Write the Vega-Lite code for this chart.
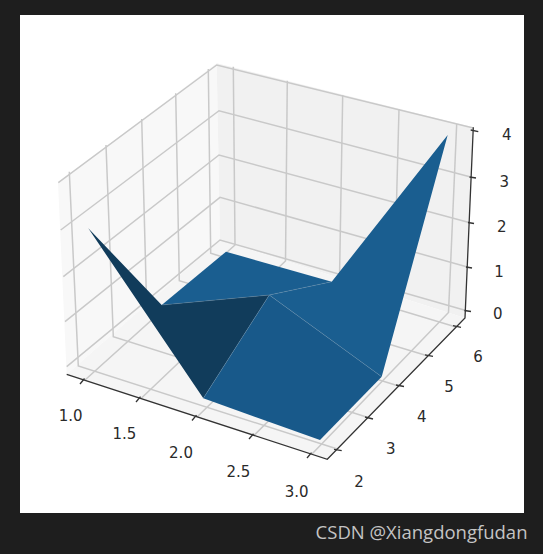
{
"$schema":"https://vega.github.io/schema/vega-lite/v6.json",
"width":543,"height":554,"padding":0,"autosize":{"type":"none"},
"background":"#1e1e1e",
"config":{"view":{"stroke":null}},
"datasets":{
"panel":[{"x0":20,"x1":524,"y0":15,"y1":513}],
"faces":[
{"face":"left","step":0,"px":58,"py":182.7},{"face":"left","step":1,"px":216.7,"py":63.3},{"face":"left","step":2,"px":220,"py":240},{"face":"left","step":3,"px":66.7,"py":374.3},
{"face":"back","step":0,"px":216.7,"py":63.3},{"face":"back","step":1,"px":473.3,"py":127.3},{"face":"back","step":2,"px":465,"py":318},{"face":"back","step":3,"px":220,"py":240},
{"face":"floor","step":0,"px":66.7,"py":374.3},{"face":"floor","step":1,"px":220,"py":240},{"face":"floor","step":2,"px":465,"py":318},{"face":"floor","step":3,"px":327.3,"py":459.3}
],
"surface":[
{"face":"rear","step":0,"px":161.7,"py":305},{"face":"rear","step":1,"px":226,"py":251.7},{"face":"rear","step":2,"px":331.7,"py":281.7},{"face":"rear","step":3,"px":269.3,"py":295},
{"face":"shade","step":0,"px":88.3,"py":228.3},{"face":"shade","step":1,"px":161.7,"py":305},{"face":"shade","step":2,"px":269.3,"py":295},{"face":"shade","step":3,"px":203.3,"py":398.3},
{"face":"front","step":0,"px":203.3,"py":398.3},{"face":"front","step":1,"px":269.3,"py":295},{"face":"front","step":2,"px":381.7,"py":376.7},{"face":"front","step":3,"px":320,"py":440},
{"face":"right","step":0,"px":269.3,"py":295},{"face":"right","step":1,"px":331.7,"py":281.7},{"face":"right","step":2,"px":447.7,"py":135},{"face":"right","step":3,"px":381.7,"py":376.7}
],
"seams":[
{"id":"s1","step":0,"px":161.7,"py":305},{"id":"s1","step":1,"px":269.3,"py":295},
{"id":"s2","step":0,"px":269.3,"py":295},{"id":"s2","step":1,"px":203.3,"py":398.3},
{"id":"s3","step":0,"px":269.3,"py":295},{"id":"s3","step":1,"px":381.7,"py":376.7},
{"id":"s4","step":0,"px":269.3,"py":295},{"id":"s4","step":1,"px":331.7,"py":281.7}
],
"grid":[
{"id":"xb1","step":0,"px":233.3,"py":66.7},{"id":"xb1","step":1,"px":235,"py":245},{"id":"xb1","step":2,"px":85,"py":380},
{"id":"xb2","step":0,"px":287.3,"py":80.7},{"id":"xb2","step":1,"px":285.5,"py":261},{"id":"xb2","step":2,"px":141,"py":398.5},
{"id":"xb3","step":0,"px":342.7,"py":95},{"id":"xb3","step":1,"px":339.5,"py":278.5},{"id":"xb3","step":2,"px":197,"py":417},
{"id":"xb4","step":0,"px":399,"py":109},{"id":"xb4","step":1,"px":394,"py":296},{"id":"xb4","step":2,"px":254,"py":435.4},
{"id":"xb5","step":0,"px":456.7,"py":124},{"id":"xb5","step":1,"px":448.5,"py":312.5},{"id":"xb5","step":2,"px":312,"py":454},
{"id":"yl2","step":0,"px":69.3,"py":171.7},{"id":"yl2","step":1,"px":78.3,"py":366},{"id":"yl2","step":2,"px":337.3,"py":449},
{"id":"yl3","step":0,"px":106,"py":145},{"id":"yl3","step":1,"px":113.3,"py":336.7},{"id":"yl3","step":2,"px":368,"py":417.5},
{"id":"yl4","step":0,"px":141.7,"py":119},{"id":"yl4","step":1,"px":146.7,"py":308},{"id":"yl4","step":2,"px":398.7,"py":386},
{"id":"yl5","step":0,"px":175.7,"py":93.3},{"id":"yl5","step":1,"px":179.3,"py":280.7},{"id":"yl5","step":2,"px":428,"py":356},
{"id":"yl6","step":0,"px":208.3,"py":69},{"id":"yl6","step":1,"px":210.7,"py":253.3},{"id":"yl6","step":2,"px":456,"py":327},
{"id":"z4","step":0,"px":58.3,"py":182.7},{"id":"z4","step":1,"px":216.7,"py":65},{"id":"z4","step":2,"px":473.3,"py":128},
{"id":"z3","step":0,"px":60.7,"py":230},{"id":"z3","step":1,"px":219,"py":110.7},{"id":"z3","step":2,"px":471.7,"py":177.3},
{"id":"z2","step":0,"px":63.3,"py":276.7},{"id":"z2","step":1,"px":219,"py":155},{"id":"z2","step":2,"px":470,"py":222.7},
{"id":"z1","step":0,"px":65,"py":321.7},{"id":"z1","step":1,"px":220,"py":197.3},{"id":"z1","step":2,"px":468.3,"py":267.3},
{"id":"z0","step":0,"px":66.7,"py":366.7},{"id":"z0","step":1,"px":220,"py":240},{"id":"z0","step":2,"px":466.7,"py":310.7}
],
"axes":[
{"id":"frame","step":0,"px":66.7,"py":374.3},{"id":"frame","step":1,"px":327.3,"py":459.3},{"id":"frame","step":2,"px":465,"py":318},{"id":"frame","step":3,"px":473.3,"py":127.3},
{"id":"tx1","step":0,"px":84.5,"py":378.5},{"id":"tx1","step":1,"px":80,"py":384},
{"id":"tx2","step":0,"px":140.5,"py":396.7},{"id":"tx2","step":1,"px":136,"py":402},
{"id":"tx3","step":0,"px":196.5,"py":415.2},{"id":"tx3","step":1,"px":192,"py":420.5},
{"id":"tx4","step":0,"px":253.5,"py":433.8},{"id":"tx4","step":1,"px":249,"py":439},
{"id":"tx5","step":0,"px":311.5,"py":452.6},{"id":"tx5","step":1,"px":307,"py":458},
{"id":"ty2","step":0,"px":334,"py":449.3},{"id":"ty2","step":1,"px":341.7,"py":450.7},
{"id":"ty3","step":0,"px":365,"py":417},{"id":"ty3","step":1,"px":373,"py":419},
{"id":"ty4","step":0,"px":396,"py":385},{"id":"ty4","step":1,"px":404,"py":386.5},
{"id":"ty5","step":0,"px":425,"py":354.8},{"id":"ty5","step":1,"px":433,"py":356.3},
{"id":"ty6","step":0,"px":453,"py":325.7},{"id":"ty6","step":1,"px":461,"py":327.3},
{"id":"tz4","step":0,"px":470.7,"py":130},{"id":"tz4","step":1,"px":478.3,"py":131.7},
{"id":"tz3","step":0,"px":469.5,"py":177},{"id":"tz3","step":1,"px":476,"py":178},
{"id":"tz2","step":0,"px":468,"py":222.5},{"id":"tz2","step":1,"px":474,"py":223.5},
{"id":"tz1","step":0,"px":466,"py":267},{"id":"tz1","step":1,"px":472,"py":268},
{"id":"tz0","step":0,"px":464.5,"py":310.5},{"id":"tz0","step":1,"px":471,"py":311.5}
],
"labels":[
{"label":"1.0","px":70.7,"py":415.7},{"label":"1.5","px":124.3,"py":434.3},{"label":"2.0","px":181,"py":453.3},{"label":"2.5","px":238.3,"py":471.7},{"label":"3.0","px":296.7,"py":492.3},
{"label":"2","px":359,"py":481.7},{"label":"3","px":390.7,"py":449.3},{"label":"4","px":421.7,"py":416.7},{"label":"5","px":449,"py":386.7},{"label":"6","px":478,"py":356.7},
{"label":"4","px":506.7,"py":135},{"label":"3","px":504.3,"py":181.7},{"label":"2","px":501.7,"py":226.7},{"label":"1","px":499,"py":271.7},{"label":"0","px":497.7,"py":314}
],
"credit":[{"label":"CSDN @Xiangdongfudan","px":527.5,"py":533}]
},
"layer":[
{"data":{"name":"panel"},"mark":{"type":"rect","fill":"#ffffff"},
 "encoding":{"x":{"field":"x0","type":"quantitative","scale":{"domain":[0,543],"nice":false,"zero":false},"axis":null},"x2":{"field":"x1"},
 "y":{"field":"y0","type":"quantitative","scale":{"domain":[554,0],"nice":false,"zero":false},"axis":null},"y2":{"field":"y1"}}},
{"data":{"name":"faces"},"mark":{"type":"line","strokeWidth":0,"interpolate":"linear"},
 "encoding":{"x":{"field":"px","type":"quantitative","axis":null},"y":{"field":"py","type":"quantitative","axis":null},"order":{"field":"step"},"detail":{"field":"face"},
 "fill":{"field":"face","type":"nominal","legend":null,"scale":{"domain":["left","back","floor"],"range":["#f8f8f8","#f1f1f1","#f5f5f5"]}}}},
{"data":{"name":"grid"},"mark":{"type":"line","stroke":"#c9c9c9","strokeWidth":1.5},
 "encoding":{"x":{"field":"px","type":"quantitative","axis":null},"y":{"field":"py","type":"quantitative","axis":null},"order":{"field":"step"},"detail":{"field":"id"}}},
{"data":{"name":"axes"},"mark":{"type":"line","stroke":"#333333","strokeWidth":1.3},
 "encoding":{"x":{"field":"px","type":"quantitative","axis":null},"y":{"field":"py","type":"quantitative","axis":null},"order":{"field":"step"},"detail":{"field":"id"}}},
{"data":{"name":"surface"},"mark":{"type":"line","strokeWidth":0},
 "encoding":{"x":{"field":"px","type":"quantitative","axis":null},"y":{"field":"py","type":"quantitative","axis":null},"order":{"field":"step"},"detail":{"field":"face"},
 "fill":{"field":"face","type":"nominal","legend":null,"scale":{"domain":["rear","shade","front","right"],"range":["#1a5e90","#113c5b","#18598a","#1a5e90"]}}}},
{"data":{"name":"seams"},"mark":{"type":"line","stroke":"#6f93ad","strokeWidth":0.5,"opacity":0.7},
 "encoding":{"x":{"field":"px","type":"quantitative","axis":null},"y":{"field":"py","type":"quantitative","axis":null},"order":{"field":"step"},"detail":{"field":"id"}}},
{"data":{"name":"labels"},"mark":{"type":"text","font":"DejaVu Sans","fontSize":15,"fill":"#2a2a2a","align":"center","baseline":"middle"},
 "encoding":{"x":{"field":"px","type":"quantitative","axis":null},"y":{"field":"py","type":"quantitative","axis":null},"text":{"field":"label"}}},
{"data":{"name":"credit"},"mark":{"type":"text","font":"Open Sans","fontSize":18.5,"fill":"#c4c4c4","align":"right","baseline":"middle"},
 "encoding":{"x":{"field":"px","type":"quantitative","axis":null},"y":{"field":"py","type":"quantitative","axis":null},"text":{"field":"label"}}}
],
"resolve":{"scale":{"fill":"independent"}}
}
